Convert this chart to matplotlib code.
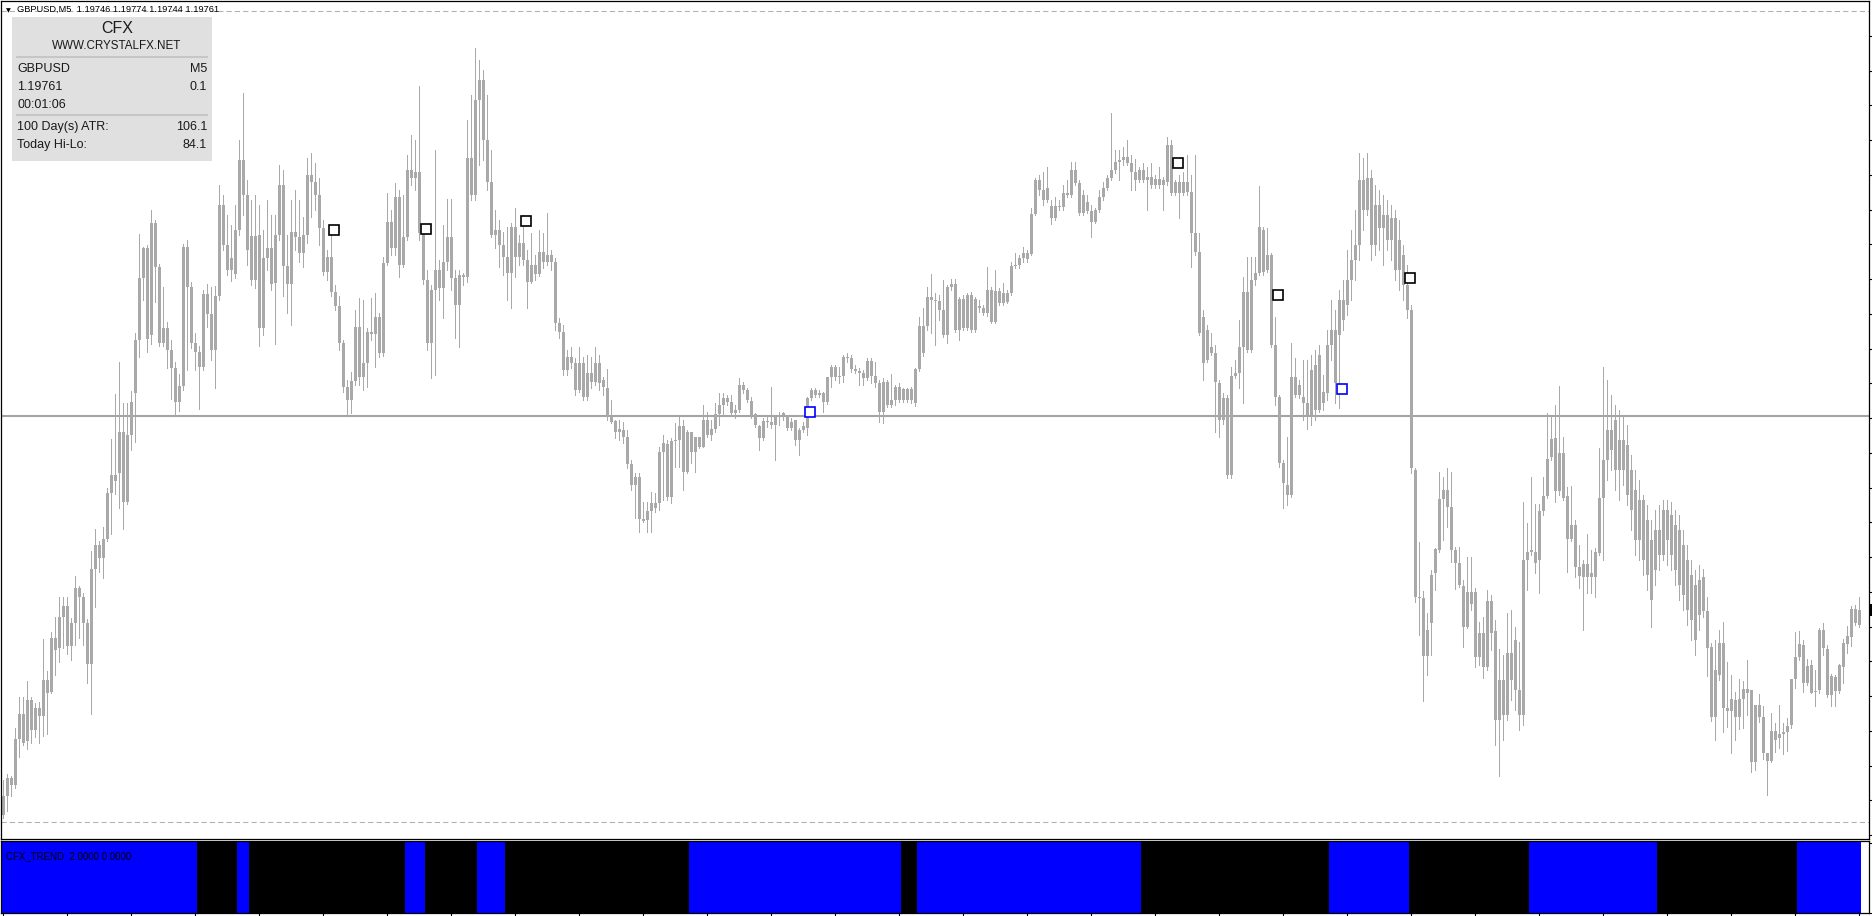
import numpy as np
import matplotlib
matplotlib.use("Agg")
import matplotlib.pyplot as plt
from matplotlib.patches import Rectangle
from matplotlib.lines import Line2D
from matplotlib.transforms import blended_transform_factory

plt.rcParams['font.family'] = ['Liberation Sans', 'DejaVu Sans']

symbol = "GBPUSD"
timeframe = "M5"

# GBPUSD M5 candles, oldest first
opens = [
    1.19556, 1.19575, 1.19593, 1.19586, 1.19632, 1.19657, 1.19630, 1.19671, 1.19641, 1.19663,
    1.19655, 1.19691, 1.19679, 1.19733, 1.19723, 1.19754, 1.19765, 1.19725, 1.19748, 1.19783,
    1.19774, 1.19748, 1.19707, 1.19802, 1.19826, 1.19813, 1.19832, 1.19878, 1.19896, 1.19898,
    1.19939, 1.19869, 1.19936, 1.19978, 1.20031, 1.20093, 1.20123, 1.20036, 1.20148, 1.20104,
    1.20028, 1.20043, 1.20021, 1.20003, 1.19969, 1.19985, 1.20124, 1.20084, 1.20028, 1.20019,
    1.20004, 1.20077, 1.20057, 1.20021, 1.20075, 1.20166, 1.20126, 1.20101, 1.20097, 1.20141,
    1.20211, 1.20176, 1.20091, 1.20135, 1.20136, 1.20043, 1.20113, 1.20123, 1.20088, 1.20136,
    1.20186, 1.20105, 1.20087, 1.20139, 1.20134, 1.20118, 1.20136, 1.20196, 1.20189, 1.20176,
    1.20143, 1.20099, 1.20114, 1.20079, 1.20065, 1.20028, 1.19984, 1.19971, 1.19990, 1.20044,
    1.19994, 1.20008, 1.20039, 1.20037, 1.20054, 1.20018, 1.20108, 1.20149, 1.20123, 1.20174,
    1.20106, 1.20134, 1.20201, 1.20193, 1.20199, 1.20138, 1.20091, 1.20028, 1.20081, 1.20101,
    1.20083, 1.20109, 1.20134, 1.20093, 1.20066, 1.20096, 1.20094, 1.20213, 1.20176, 1.20271,
    1.20291, 1.20231, 1.20189, 1.20136, 1.20141, 1.20126, 1.20114, 1.20098, 1.20144, 1.20114,
    1.20128, 1.20111, 1.20089, 1.20106, 1.20097, 1.20119, 1.20109, 1.20116, 1.20109, 1.20048,
    1.20039, 1.20001, 1.20014, 1.20008, 1.19981, 1.20008, 1.19974, 1.19998, 1.19989, 1.20008,
    1.19984, 1.19983, 1.19954, 1.19950, 1.19939, 1.19941, 1.19934, 1.19907, 1.19886, 1.19894,
    1.19852, 1.19851, 1.19860, 1.19868, 1.19868, 1.19919, 1.19927, 1.19874, 1.19930, 1.19931,
    1.19945, 1.19899, 1.19939, 1.19919, 1.19934, 1.19924, 1.19951, 1.19936, 1.19942, 1.19957,
    1.19966, 1.19973, 1.19969, 1.19958, 1.19961, 1.19986, 1.19981, 1.19970, 1.19957, 1.19945,
    1.19933, 1.19950, 1.19949, 1.19946, 1.19954, 1.19956, 1.19954, 1.19943, 1.19951, 1.19931,
    1.19941, 1.19943, 1.19973, 1.19981, 1.19976, 1.19978, 1.19969, 1.19994, 1.20004, 1.19994,
    1.19995, 1.20014, 1.20013, 1.20002, 1.20000, 1.19998, 1.19993, 1.20010, 1.19995, 1.19988,
    1.19959, 1.19989, 1.19966, 1.19971, 1.19984, 1.19971, 1.19982, 1.19971, 1.19968, 1.20002,
    1.20045, 1.20045, 1.20074, 1.20071, 1.20070, 1.20061, 1.20036, 1.20084, 1.20087, 1.20041,
    1.20072, 1.20043, 1.20076, 1.20041, 1.20065, 1.20063, 1.20058, 1.20081, 1.20049, 1.20080,
    1.20068, 1.20078, 1.20078, 1.20105, 1.20106, 1.20113, 1.20118, 1.20117, 1.20157, 1.20191,
    1.20181, 1.20171, 1.20165, 1.20153, 1.20165, 1.20164, 1.20178, 1.20176, 1.20201, 1.20188,
    1.20158, 1.20169, 1.20160, 1.20149, 1.20161, 1.20174, 1.20183, 1.20193, 1.20201, 1.20209,
    1.20211, 1.20214, 1.20208, 1.20199, 1.20191, 1.20201, 1.20191, 1.20194, 1.20186, 1.20192,
    1.20186, 1.20189, 1.20226, 1.20178, 1.20189, 1.20178, 1.20189, 1.20179, 1.20138, 1.20119,
    1.20054, 1.20011, 1.20024, 1.20018, 1.19988, 1.19951, 1.19973, 1.19896, 1.19995, 1.19998,
    1.20024, 1.20079, 1.20021, 1.20091, 1.20098, 1.20141, 1.20101, 1.20116, 1.20026, 1.19974,
    1.19908, 1.19886, 1.19876, 1.19994, 1.19976, 1.19974, 1.19968, 1.19956, 1.20006, 1.19961,
    1.19979, 1.19978, 1.20026, 1.20041, 1.20036, 1.20071, 1.20066, 1.20091, 1.20111, 1.20126,
    1.20191, 1.20161, 1.20193, 1.20126, 1.20166, 1.20143, 1.20156, 1.20131, 1.20153, 1.20101,
    1.20116, 1.20086, 1.20061, 1.19901, 1.19774, 1.19773, 1.19715, 1.19748, 1.19798, 1.19821,
    1.19872, 1.19881, 1.19864, 1.19821, 1.19808, 1.19785, 1.19744, 1.19779, 1.19779, 1.19714,
    1.19738, 1.19704, 1.19770, 1.19740, 1.19651, 1.19691, 1.19656, 1.19718, 1.19731, 1.19681,
    1.19656, 1.19811, 1.19819, 1.19819, 1.19811, 1.19860, 1.19875, 1.19914, 1.19933, 1.19880,
    1.19918, 1.19875, 1.19832, 1.19846, 1.19804, 1.19794, 1.19807, 1.19794, 1.19794, 1.19818,
    1.19873, 1.19911, 1.19941, 1.19951, 1.19901, 1.19931, 1.19926, 1.19901, 1.19881, 1.19831,
    1.19871, 1.19851, 1.19831, 1.19801, 1.19841, 1.19816, 1.19861, 1.19856, 1.19846, 1.19841,
    1.19826, 1.19811, 1.19796, 1.19786, 1.19756, 1.19794, 1.19760, 1.19724, 1.19654, 1.19696,
    1.19728, 1.19663, 1.19660, 1.19671, 1.19654, 1.19672, 1.19682, 1.19681, 1.19609, 1.19666,
    1.19654, 1.19618, 1.19610, 1.19640, 1.19633, 1.19637, 1.19639, 1.19646, 1.19692, 1.19714,
    1.19726, 1.19688, 1.19706, 1.19679, 1.19681, 1.19741, 1.19722, 1.19676, 1.19680, 1.19680,
    1.19704, 1.19727, 1.19734, 1.19762, 1.19746,
]
highs = [
    1.19591, 1.19597, 1.19595, 1.19643, 1.19674, 1.19674, 1.19690, 1.19674, 1.19668, 1.19669,
    1.19732, 1.19700, 1.19739, 1.19754, 1.19774, 1.19774, 1.19774, 1.19753, 1.19795, 1.19785,
    1.19778, 1.19752, 1.19820, 1.19842, 1.19830, 1.19844, 1.19883, 1.19932, 1.19977, 1.20009,
    1.19968, 1.19968, 1.19980, 1.20038, 1.20137, 1.20124, 1.20126, 1.20161, 1.20151, 1.20107,
    1.20084, 1.20049, 1.20031, 1.20009, 1.19997, 1.20127, 1.20131, 1.20089, 1.20038, 1.20025,
    1.20081, 1.20087, 1.20084, 1.20085, 1.20186, 1.20176, 1.20156, 1.20146, 1.20166, 1.20231,
    1.20278, 1.20191, 1.20171, 1.20176, 1.20166, 1.20141, 1.20171, 1.20156, 1.20156, 1.20206,
    1.20201, 1.20136, 1.20171, 1.20181, 1.20171, 1.20154, 1.20213, 1.20218, 1.20208, 1.20193,
    1.20151, 1.20121, 1.20136, 1.20086, 1.20075, 1.20031, 1.19991, 1.19999, 1.20061, 1.20073,
    1.20071, 1.20043, 1.20073, 1.20078, 1.20058, 1.20114, 1.20178, 1.20161, 1.20188, 1.20181,
    1.20176, 1.20216, 1.20236, 1.20231, 1.20285, 1.20143, 1.20101, 1.20086, 1.20221, 1.20111,
    1.20146, 1.20172, 1.20172, 1.20101, 1.20101, 1.20098, 1.20251, 1.20276, 1.20323, 1.20311,
    1.20301, 1.20276, 1.20221, 1.20161, 1.20151, 1.20139, 1.20144, 1.20148, 1.20163, 1.20136,
    1.20156, 1.20121, 1.20138, 1.20116, 1.20141, 1.20138, 1.20158, 1.20121, 1.20113, 1.20053,
    1.20046, 1.20021, 1.20024, 1.20013, 1.20024, 1.20014, 1.20016, 1.20014, 1.20024, 1.20016,
    1.19994, 1.20002, 1.19971, 1.19951, 1.19951, 1.19949, 1.19941, 1.19911, 1.19898, 1.19898,
    1.19869, 1.19869, 1.19879, 1.19878, 1.19924, 1.19936, 1.19931, 1.19933, 1.19948, 1.19954,
    1.19951, 1.19941, 1.19939, 1.19933, 1.19934, 1.19966, 1.19959, 1.19951, 1.19968, 1.19978,
    1.19978, 1.19976, 1.19976, 1.19966, 1.19993, 1.19989, 1.19983, 1.19974, 1.19958, 1.19946,
    1.19953, 1.19956, 1.19984, 1.19956, 1.19959, 1.19959, 1.19956, 1.19953, 1.19951, 1.19943,
    1.19949, 1.19974, 1.19983, 1.19983, 1.19981, 1.19979, 1.19994, 1.20006, 1.20006, 1.20004,
    1.20016, 1.20018, 1.20016, 1.20006, 1.20003, 1.20001, 1.20013, 1.20013, 1.20009, 1.19991,
    1.19993, 1.19991, 1.19997, 1.19986, 1.19988, 1.19983, 1.19983, 1.19984, 1.20003, 1.20054,
    1.20063, 1.20084, 1.20097, 1.20078, 1.20076, 1.20091, 1.20086, 1.20092, 1.20092, 1.20074,
    1.20076, 1.20078, 1.20079, 1.20074, 1.20071, 1.20066, 1.20104, 1.20084, 1.20101, 1.20083,
    1.20088, 1.20081, 1.20109, 1.20118, 1.20116, 1.20124, 1.20121, 1.20163, 1.20193, 1.20196,
    1.20199, 1.20204, 1.20171, 1.20174, 1.20171, 1.20186, 1.20191, 1.20209, 1.20209, 1.20191,
    1.20181, 1.20176, 1.20166, 1.20163, 1.20181, 1.20189, 1.20196, 1.20258, 1.20221, 1.20221,
    1.20224, 1.20231, 1.20216, 1.20212, 1.20204, 1.20208, 1.20204, 1.20208, 1.20196, 1.20204,
    1.20194, 1.20234, 1.20231, 1.20191, 1.20196, 1.20199, 1.20216, 1.20196, 1.20216, 1.20138,
    1.20061, 1.20046, 1.20038, 1.20026, 1.19991, 1.19978, 1.19976, 1.20004, 1.20011, 1.20051,
    1.20094, 1.20114, 1.20114, 1.20114, 1.20185, 1.20144, 1.20143, 1.20118, 1.20054, 1.19976,
    1.19911, 1.19934, 1.20028, 1.20013, 1.19991, 1.20011, 1.20011, 1.20016, 1.20021, 1.20026,
    1.19996, 1.20041, 1.20071, 1.20061, 1.20081, 1.20091, 1.20121, 1.20141, 1.20161, 1.20218,
    1.20213, 1.20218, 1.20201, 1.20186, 1.20181, 1.20176, 1.20171, 1.20166, 1.20161, 1.20151,
    1.20126, 1.20106, 1.20066, 1.19903, 1.19829, 1.19780, 1.19758, 1.19801, 1.19823, 1.19899,
    1.19894, 1.19903, 1.19899, 1.19824, 1.19824, 1.19791, 1.19814, 1.19814, 1.19783, 1.19749,
    1.19754, 1.19781, 1.19776, 1.19751, 1.19722, 1.19716, 1.19758, 1.19761, 1.19744, 1.19729,
    1.19869, 1.19848, 1.19894, 1.19867, 1.19867, 1.19894, 1.19958, 1.19955, 1.19966, 1.19985,
    1.19934, 1.19884, 1.19885, 1.19851, 1.19826, 1.19811, 1.19837, 1.19821, 1.19823, 1.19923,
    1.20004, 1.19991, 1.19976, 1.19966, 1.19961, 1.19956, 1.19946, 1.19916, 1.19901, 1.19891,
    1.19876, 1.19866, 1.19851, 1.19861, 1.19866, 1.19871, 1.19871, 1.19869, 1.19861, 1.19856,
    1.19841, 1.19826, 1.19811, 1.19801, 1.19806, 1.19802, 1.19774, 1.19728, 1.19731, 1.19741,
    1.19749, 1.19709, 1.19696, 1.19679, 1.19692, 1.19690, 1.19711, 1.19681, 1.19666, 1.19677,
    1.19665, 1.19618, 1.19658, 1.19648, 1.19666, 1.19648, 1.19653, 1.19692, 1.19739, 1.19740,
    1.19731, 1.19712, 1.19711, 1.19701, 1.19743, 1.19748, 1.19726, 1.19697, 1.19696, 1.19707,
    1.19732, 1.19745, 1.19765, 1.19766, 1.19774,
]
lows = [
    1.19553, 1.19560, 1.19575, 1.19583, 1.19614, 1.19626, 1.19622, 1.19628, 1.19634, 1.19628,
    1.19635, 1.19637, 1.19678, 1.19696, 1.19709, 1.19723, 1.19717, 1.19711, 1.19726, 1.19733,
    1.19726, 1.19688, 1.19657, 1.19764, 1.19799, 1.19793, 1.19830, 1.19837, 1.19877, 1.19863,
    1.19842, 1.19867, 1.19921, 1.19929, 1.20014, 1.20071, 1.20019, 1.20027, 1.20069, 1.20025,
    1.20025, 1.20003, 1.19972, 1.19955, 1.19960, 1.19981, 1.20001, 1.20023, 1.20001, 1.19962,
    1.20001, 1.20044, 1.20011, 1.19983, 1.20071, 1.20121, 1.20096, 1.20090, 1.20093, 1.20136,
    1.20156, 1.20106, 1.20086, 1.20083, 1.20025, 1.20036, 1.20101, 1.20081, 1.20027, 1.20131,
    1.20075, 1.20058, 1.20046, 1.20121, 1.20109, 1.20104, 1.20128, 1.20154, 1.20161, 1.20126,
    1.20096, 1.20091, 1.20075, 1.20061, 1.20021, 1.19979, 1.19955, 1.19958, 1.19986, 1.19986,
    1.19981, 1.19984, 1.20031, 1.20004, 1.20014, 1.20015, 1.20106, 1.20116, 1.20116, 1.20094,
    1.20104, 1.20131, 1.20186, 1.20181, 1.20131, 1.20087, 1.20021, 1.19993, 1.19996, 1.20071,
    1.20053, 1.20101, 1.20081, 1.20033, 1.20024, 1.20086, 1.20089, 1.20171, 1.20171, 1.20206,
    1.20211, 1.20181, 1.20134, 1.20123, 1.20104, 1.20096, 1.20071, 1.20063, 1.20094, 1.20106,
    1.20106, 1.20063, 1.20088, 1.20091, 1.20095, 1.20103, 1.20106, 1.20101, 1.20041, 1.20033,
    1.19996, 1.19996, 1.20003, 1.19976, 1.19979, 1.19971, 1.19971, 1.19983, 1.19986, 1.19981,
    1.19976, 1.19951, 1.19948, 1.19933, 1.19931, 1.19928, 1.19903, 1.19881, 1.19853, 1.19839,
    1.19849, 1.19839, 1.19839, 1.19859, 1.19861, 1.19871, 1.19871, 1.19868, 1.19904, 1.19904,
    1.19881, 1.19898, 1.19908, 1.19899, 1.19923, 1.19924, 1.19934, 1.19931, 1.19939, 1.19946,
    1.19956, 1.19966, 1.19956, 1.19953, 1.19959, 1.19978, 1.19969, 1.19953, 1.19944, 1.19921,
    1.19931, 1.19944, 1.19943, 1.19911, 1.19946, 1.19951, 1.19941, 1.19941, 1.19926, 1.19916,
    1.19939, 1.19936, 1.19971, 1.19974, 1.19974, 1.19959, 1.19967, 1.19984, 1.19991, 1.19988,
    1.19989, 1.20009, 1.19999, 1.19998, 1.19986, 1.19986, 1.19991, 1.19988, 1.19984, 1.19949,
    1.19948, 1.19964, 1.19964, 1.19966, 1.19969, 1.19969, 1.19969, 1.19968, 1.19965, 1.20000,
    1.20015, 1.20041, 1.20038, 1.20026, 1.20051, 1.20034, 1.20028, 1.20081, 1.20039, 1.20031,
    1.20041, 1.20041, 1.20039, 1.20039, 1.20059, 1.20056, 1.20055, 1.20048, 1.20048, 1.20066,
    1.20066, 1.20068, 1.20076, 1.20103, 1.20103, 1.20109, 1.20109, 1.20116, 1.20156, 1.20176,
    1.20166, 1.20169, 1.20147, 1.20151, 1.20161, 1.20161, 1.20174, 1.20174, 1.20186, 1.20156,
    1.20156, 1.20158, 1.20134, 1.20148, 1.20159, 1.20171, 1.20181, 1.20191, 1.20198, 1.20191,
    1.20206, 1.20206, 1.20181, 1.20181, 1.20189, 1.20189, 1.20161, 1.20183, 1.20183, 1.20183,
    1.20161, 1.20186, 1.20176, 1.20176, 1.20153, 1.20176, 1.20176, 1.20104, 1.20116, 1.20036,
    1.19991, 1.20009, 1.20016, 1.19939, 1.19934, 1.19947, 1.19893, 1.19893, 1.19993, 1.19983,
    1.19968, 1.20019, 1.20019, 1.20086, 1.20096, 1.20096, 1.20099, 1.20024, 1.19966, 1.19904,
    1.19863, 1.19866, 1.19874, 1.19974, 1.19973, 1.19951, 1.19942, 1.19946, 1.19951, 1.19959,
    1.19961, 1.19971, 1.20011, 1.19968, 1.19963, 1.20041, 1.20056, 1.20071, 1.20091, 1.20111,
    1.20141, 1.20156, 1.20111, 1.20116, 1.20121, 1.20106, 1.20121, 1.20111, 1.20091, 1.20081,
    1.20071, 1.20053, 1.19898, 1.19769, 1.19736, 1.19670, 1.19696, 1.19716, 1.19781, 1.19819,
    1.19831, 1.19844, 1.19809, 1.19782, 1.19784, 1.19724, 1.19743, 1.19761, 1.19704, 1.19706,
    1.19693, 1.19701, 1.19721, 1.19626, 1.19595, 1.19631, 1.19651, 1.19671, 1.19661, 1.19641,
    1.19646, 1.19781, 1.19816, 1.19798, 1.19778, 1.19856, 1.19873, 1.19911, 1.19869, 1.19876,
    1.19871, 1.19799, 1.19830, 1.19794, 1.19783, 1.19741, 1.19778, 1.19778, 1.19774, 1.19816,
    1.19811, 1.19891, 1.19901, 1.19881, 1.19871, 1.19886, 1.19866, 1.19841, 1.19816, 1.19811,
    1.19796, 1.19781, 1.19744, 1.19786, 1.19801, 1.19811, 1.19806, 1.19801, 1.19786, 1.19771,
    1.19761, 1.19746, 1.19731, 1.19716, 1.19741, 1.19754, 1.19695, 1.19650, 1.19631, 1.19691,
    1.19639, 1.19644, 1.19618, 1.19631, 1.19642, 1.19643, 1.19656, 1.19599, 1.19601, 1.19649,
    1.19612, 1.19576, 1.19609, 1.19619, 1.19623, 1.19617, 1.19620, 1.19643, 1.19683, 1.19711,
    1.19679, 1.19686, 1.19678, 1.19665, 1.19678, 1.19716, 1.19674, 1.19665, 1.19665, 1.19678,
    1.19688, 1.19718, 1.19725, 1.19746, 1.19744,
]
closes = [
    1.19575, 1.19593, 1.19586, 1.19632, 1.19657, 1.19628, 1.19671, 1.19641, 1.19663, 1.19655,
    1.19691, 1.19678, 1.19733, 1.19721, 1.19754, 1.19765, 1.19725, 1.19748, 1.19783, 1.19774,
    1.19748, 1.19707, 1.19802, 1.19826, 1.19813, 1.19832, 1.19878, 1.19896, 1.19890, 1.19939,
    1.19869, 1.19936, 1.19969, 1.20031, 1.20093, 1.20123, 1.20032, 1.20148, 1.20104, 1.20028,
    1.20043, 1.20021, 1.20003, 1.19969, 1.19985, 1.20124, 1.20084, 1.20028, 1.20019, 1.20004,
    1.20077, 1.20057, 1.20021, 1.20075, 1.20166, 1.20126, 1.20101, 1.20113, 1.20141, 1.20211,
    1.20176, 1.20121, 1.20135, 1.20091, 1.20043, 1.20113, 1.20123, 1.20087, 1.20136, 1.20186,
    1.20105, 1.20087, 1.20139, 1.20134, 1.20118, 1.20136, 1.20196, 1.20189, 1.20176, 1.20143,
    1.20099, 1.20114, 1.20079, 1.20065, 1.20028, 1.19984, 1.19971, 1.19990, 1.20044, 1.19994,
    1.20008, 1.20039, 1.20037, 1.20054, 1.20018, 1.20108, 1.20149, 1.20123, 1.20174, 1.20106,
    1.20134, 1.20201, 1.20193, 1.20199, 1.20138, 1.20091, 1.20028, 1.20081, 1.20101, 1.20083,
    1.20109, 1.20134, 1.20093, 1.20066, 1.20096, 1.20094, 1.20213, 1.20176, 1.20271, 1.20291,
    1.20231, 1.20189, 1.20136, 1.20141, 1.20126, 1.20114, 1.20098, 1.20144, 1.20114, 1.20128,
    1.20111, 1.20089, 1.20106, 1.20097, 1.20119, 1.20109, 1.20116, 1.20109, 1.20048, 1.20039,
    1.20001, 1.20014, 1.20008, 1.19981, 1.20008, 1.19974, 1.19998, 1.19989, 1.20008, 1.19988,
    1.19991, 1.19954, 1.19949, 1.19939, 1.19942, 1.19934, 1.19907, 1.19886, 1.19894, 1.19852,
    1.19850, 1.19860, 1.19868, 1.19863, 1.19919, 1.19928, 1.19874, 1.19930, 1.19931, 1.19945,
    1.19899, 1.19939, 1.19919, 1.19934, 1.19924, 1.19951, 1.19936, 1.19942, 1.19957, 1.19966,
    1.19973, 1.19969, 1.19958, 1.19961, 1.19986, 1.19981, 1.19971, 1.19956, 1.19946, 1.19933,
    1.19950, 1.19949, 1.19946, 1.19954, 1.19956, 1.19958, 1.19943, 1.19949, 1.19931, 1.19941,
    1.19945, 1.19973, 1.19981, 1.19976, 1.19978, 1.19969, 1.19994, 1.20004, 1.19994, 1.19995,
    1.20014, 1.20013, 1.20002, 1.20000, 1.19998, 1.19993, 1.20010, 1.19995, 1.19988, 1.19959,
    1.19989, 1.19966, 1.19971, 1.19984, 1.19971, 1.19982, 1.19971, 1.19982, 1.20002, 1.20045,
    1.20018, 1.20074, 1.20071, 1.20070, 1.20061, 1.20036, 1.20084, 1.20087, 1.20041, 1.20072,
    1.20043, 1.20076, 1.20041, 1.20072, 1.20063, 1.20058, 1.20081, 1.20049, 1.20080, 1.20068,
    1.20078, 1.20069, 1.20105, 1.20106, 1.20113, 1.20118, 1.20112, 1.20157, 1.20191, 1.20181,
    1.20171, 1.20183, 1.20153, 1.20165, 1.20164, 1.20178, 1.20176, 1.20201, 1.20188, 1.20158,
    1.20176, 1.20160, 1.20149, 1.20161, 1.20174, 1.20183, 1.20193, 1.20201, 1.20209, 1.20211,
    1.20214, 1.20208, 1.20199, 1.20191, 1.20201, 1.20191, 1.20194, 1.20186, 1.20192, 1.20186,
    1.20191, 1.20226, 1.20178, 1.20189, 1.20178, 1.20189, 1.20179, 1.20138, 1.20119, 1.20038,
    1.20008, 1.20041, 1.20018, 1.19989, 1.19951, 1.19973, 1.19896, 1.19995, 1.19998, 1.20024,
    1.20079, 1.20021, 1.20091, 1.20098, 1.20144, 1.20099, 1.20116, 1.20026, 1.19974, 1.19908,
    1.19888, 1.19876, 1.19994, 1.19976, 1.19986, 1.19968, 1.19956, 1.20001, 1.19961, 1.20016,
    1.19968, 1.20026, 1.20041, 1.19988, 1.20071, 1.20051, 1.20091, 1.20111, 1.20126, 1.20191,
    1.20161, 1.20193, 1.20126, 1.20166, 1.20143, 1.20156, 1.20131, 1.20153, 1.20101, 1.20131,
    1.20086, 1.20061, 1.19903, 1.19774, 1.19773, 1.19715, 1.19741, 1.19796, 1.19822, 1.19872,
    1.19881, 1.19864, 1.19821, 1.19808, 1.19786, 1.19744, 1.19779, 1.19767, 1.19714, 1.19738,
    1.19704, 1.19770, 1.19738, 1.19651, 1.19691, 1.19656, 1.19718, 1.19691, 1.19681, 1.19656,
    1.19811, 1.19819, 1.19821, 1.19808, 1.19860, 1.19875, 1.19912, 1.19932, 1.19880, 1.19918,
    1.19873, 1.19832, 1.19846, 1.19804, 1.19795, 1.19807, 1.19794, 1.19798, 1.19819, 1.19873,
    1.19911, 1.19941, 1.19921, 1.19901, 1.19931, 1.19901, 1.19876, 1.19861, 1.19831, 1.19871,
    1.19811, 1.19796, 1.19771, 1.19841, 1.19816, 1.19861, 1.19831, 1.19816, 1.19801, 1.19786,
    1.19776, 1.19761, 1.19751, 1.19731, 1.19791, 1.19760, 1.19723, 1.19654, 1.19701, 1.19728,
    1.19663, 1.19660, 1.19672, 1.19654, 1.19672, 1.19682, 1.19678, 1.19609, 1.19666, 1.19654,
    1.19618, 1.19610, 1.19640, 1.19631, 1.19637, 1.19639, 1.19645, 1.19692, 1.19714, 1.19727,
    1.19688, 1.19705, 1.19678, 1.19679, 1.19741, 1.19723, 1.19676, 1.19695, 1.19694, 1.19706,
    1.19728, 1.19735, 1.19762, 1.19748, 1.19761,
]

# CFX_TREND histogram: 1 = up (blue), 0 = down (black), run lengths in bars
trend_state = [1, 0, 1, 0, 1, 0, 1, 0, 1, 0, 1, 0, 1, 0, 1, 0, 1]
trend_len = [49, 10, 3, 39, 5, 13, 7, 46, 53, 4, 56, 47, 20, 30, 32, 35, 16]

# signal squares drawn by the indicator
signal_bars = [82, 105, 130, 201, 293, 318, 334, 351]
signal_prices = [1.20141, 1.20142, 1.20150, 1.19959, 1.20208, 1.20076, 1.19982, 1.20093]
signal_kind = ['sell', 'sell', 'sell', 'buy', 'sell', 'sell', 'buy', 'sell']

level_line = 1.19955
dash_levels = [1.20360, 1.19549]

panel_title = "CFX"
panel_site = "WWW.CRYSTALFX.NET"
panel_rows = [("GBPUSD", "M5"), ("1.19761", "0.1"), ("00:01:06", ""),
              ("100 Day(s) ATR:", "106.1"), ("Today Hi-Lo:", "84.1")]

W, H = 1872, 916
fig = plt.figure(figsize=(W / 100, H / 100), dpi=100)
fig.patch.set_facecolor('white')


def fx(px):
    return px / W


def fy(py):
    return 1 - py / H


ax = fig.add_axes([fx(1), fy(839), fx(1869) - fx(1), fy(1) - fy(839)])
ind = fig.add_axes([fx(1), fy(913), fx(1869) - fx(1), fy(841) - fy(913)])

gray = '#a9a9a9'
o = np.array(opens)
h = np.array(highs)
l = np.array(lows)
c = np.array(closes)
x = np.arange(len(c))

for lvl in dash_levels:
    ax.axhline(lvl, color='#b0b0b0', lw=0.75, ls=(0, (5, 3)), zorder=1)
ax.axhline(level_line, color='#a4a4a4', lw=1.5, zorder=1)

# wicks and bodies, drawn without smoothing like the terminal does
ax.vlines(x, l, h, color=gray, lw=0.72, zorder=2, antialiased=False)
body_lo = np.minimum(o, c)
body_h = np.maximum(np.abs(c - o), 0.00001)
ax.bar(x, body_h, bottom=body_lo, width=0.75, color=gray, linewidth=0, zorder=2,
       antialiased=False)

for b, p, k in zip(signal_bars, signal_prices, signal_kind):
    ec = '#0000ff' if k == 'buy' else 'black'
    ax.plot(b + 0.75, p, marker='s', ms=7.4, mfc='white', mec=ec, mew=1.2, zorder=4)

ax.set_xlim(-0.5, 466.5)
ax.set_ylim(1.19532, 1.20370)
ax.set_xticks([])
ax.yaxis.tick_right()
ax.set_yticks(1.20335 - 0.0003475 * np.arange(24))
ax.tick_params(axis='y', direction='out', length=3, width=0.8, labelright=False, labelleft=False)
for s in ax.spines.values():
    s.set_color('black')
    s.set_linewidth(0.9)

# current bid marker on the price axis
ax.plot([1 + 2 / 1868], [c[-1]], marker='|', ms=8.6, mew=1.6, color='black',
        transform=blended_transform_factory(ax.transAxes, ax.transData), clip_on=False)

# indicator sub-window
starts = np.concatenate([[0], np.cumsum(trend_len)[:-1]])
for st, ln, state in zip(starts, trend_len, trend_state):
    ind.broken_barh([(st - 0.5, ln)], (0, 1), facecolors='#0000ff' if state == 1 else 'black',
                    linewidth=0, antialiased=False)
ind.set_xlim(-0.5, 466.5)
ind.set_ylim(0, 1)
ind.set_xticks(np.arange(0, len(c), 16))
ind.set_yticks([0, 0.97])
ind.yaxis.tick_right()
ind.tick_params(axis='both', direction='out', length=3, width=0.8,
                labelbottom=False, labelright=False, labelleft=False)
for s in ind.spines.values():
    s.set_color('black')
    s.set_linewidth(0.9)
fig.text(fx(6), fy(859), 'CFX_TREND  2.0000 0.0000', fontsize=7, color='black', va='baseline')

# header line
fig.text(fx(8), fy(10.5), '\u25bc', fontsize=4.5, ha='center', va='center', family='DejaVu Sans')
header = f"{symbol},{timeframe}  {o[-1]:.5f} {h[-1]:.5f} {l[-1]:.5f} {c[-1]:.5f}"
fig.text(fx(17), fy(12.3), header, fontsize=6.7, color='black', va='baseline')

# info panel
fig.add_artist(Rectangle((fx(12), fy(161)), fx(212) - fx(12), fy(17) - fy(161),
                         transform=fig.transFigure, facecolor='#e0e0e0', edgecolor='none', zorder=5))
txt = '#1a1a1a'
fig.text(fx(117), fy(33.3), panel_title, ha='center', va='baseline', fontsize=11.5, color=txt, zorder=6)
fig.text(fx(117), fy(49.3), panel_site, ha='center', va='baseline', fontsize=8.4, color=txt, zorder=6)
for sep in (57, 115):
    fig.add_artist(Line2D([fx(17), fx(207)], [fy(sep), fy(sep)], transform=fig.transFigure,
                          color='#c6c6c6', lw=1.4, zorder=6))
for (left, right), yb in zip(panel_rows, [72.3, 90.3, 108.3, 130.3, 148.3]):
    fig.text(fx(17), fy(yb), left, ha='left', va='baseline', fontsize=9, color=txt, zorder=6)
    if right:
        fig.text(fx(207), fy(yb), right, ha='right', va='baseline', fontsize=9, color=txt, zorder=6)

fig.savefig('out.png', dpi=100)
